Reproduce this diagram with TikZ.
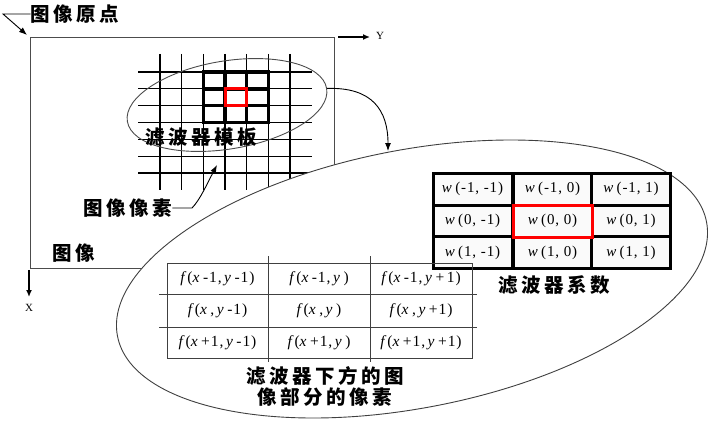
\documentclass[tikz,border=0pt]{standalone}
\usepackage{fontspec}
\setmainfont{Liberation Serif}
\newfontfamily\cjk[LetterSpace=18]{Noto Sans CJK SC}
\newfontfamily\tabfont[LetterSpace=6]{Liberation Serif}
\usetikzlibrary{arrows.meta,shapes.geometric}
\begin{document}
\begin{tikzpicture}[x=1pt,y=-1pt,
  cjklab/.style={font=\cjk\bfseries\fontsize{19.5}{21}\selectfont, inner sep=0pt, align=center},
  gridln/.style={line width=1.3pt},
  thinln/.style={line width=0.9pt, black!75},
  arr/.style={-{Latex[length=8pt,width=6pt]}, line width=0.9pt},
  wcell/.style={draw, line width=3pt, fill=gray!4, minimum width=79pt, minimum height=32pt, inner sep=0pt, font=\tabfont\fontsize{15}{16}\selectfont},
  fcell/.style={inner sep=0pt, font=\tabfont\fontsize{15.5}{16}\selectfont},
  axisln/.style={line width=1.6pt, -{Latex[length=7pt,width=6pt]}}]
\useasboundingbox (0,0) rectangle (711,420);
% image frame
\draw[line width=1pt, black!70] (30,38) rectangle (334,268);
\coordinate (imgNW) at (27,35);
% grid
\foreach \i in {0,...,6} \draw[gridln] ({160+21.667*\i},54) -- ({160+21.667*\i},190);
\foreach \j in {0,...,6} \draw[gridln] (138,{72+16.833*\j}) -- (312,{72+16.833*\j});
% filter template
\draw[line width=3.5pt] (203.3,72) rectangle (268.3,122.5);
\draw[line width=3.5pt] (225,72) -- (225,122.5) (246.7,72) -- (246.7,122.5)
  (203.3,88.8) -- (268.3,88.8) (203.3,105.7) -- (268.3,105.7);
\draw[red, line width=3pt] (225,88.8) rectangle (246.7,105.7);
% small ellipse
\node[ellipse, draw, black!70, line width=0.9pt, minimum width=202pt, minimum height=88pt, inner sep=0pt, rotate=9.4] (tmpl) at (227,105) {};
% labels in image
\node[cjklab] (origin) at (75,14) {图像原点};
\draw[arr] (origin.west) -- (3,14) -- (imgNW);
\node[cjklab] (tmplab) at (201,137) {滤波器模板};
\node[cjklab] (pix) at (128,208) {图像像素};
\coordinate (pixtip) at (217,165);
\draw[arr] (pix.east) -- (192,208) .. controls (200,200) and (208,182) .. (pixtip);
\node[cjklab] (img) at (74,253) {图像};
% axes
\coordinate (xs) at (29,270);
\coordinate (xe) at (29,297);
\draw[axisln] (xs) -- (xe);
\node[font=\fontsize{11}{13}\selectfont, inner sep=0pt] (X) at (29,308) {X};
\coordinate (ys) at (338,37);
\coordinate (ye) at (370,37);
\draw[axisln] (ys) -- (ye);
\node[font=\fontsize{11}{13}\selectfont, inner sep=0pt] (Y) at (380,36) {Y};
% big ellipse
\node[ellipse, draw, black!75, fill=white, line width=0.9pt, minimum width=600pt, minimum height=258pt, inner sep=0pt, rotate=11] (big) at (412,279) {};
\coordinate (bigtip) at (388,151);
\draw[arr] (tmpl.east) .. controls (372,87) and (388,110) .. (bigtip);
% w table
\node[wcell] (w11) at (472.5,189) {\textit{w}\,(-1, -1)};
\node[wcell] (w12) at (552.5,189) {\textit{w}\,(-1, 0)};
\node[wcell] (w13) at (631,189) {\textit{w}\,(-1, 1)};
\node[wcell] (w21) at (472.5,221) {\textit{w}\,(0, -1)};
\node[wcell] (w23) at (631,221) {\textit{w}\,(0, 1)};
\node[wcell] (w31) at (472.5,252.5) {\textit{w}\,(1, -1)};
\node[wcell] (w32) at (552.5,252.5) {\textit{w}\,(1, 0)};
\node[wcell] (w33) at (631,252.5) {\textit{w}\,(1, 1)};
\node[wcell, draw=red] (w22) at (552.5,221) {\textit{w}\,(0, 0)};
\node[cjklab] (wlab) at (554,285) {滤波器系数};
% f table
\draw[thinln] (167,263) rectangle (472,358);
\draw[thinln] (159,294) -- (477,294) (159,327) -- (477,327)
  (268,256) -- (268,362) (370,256) -- (370,362);
\node[fcell] (f11) at (217.5,278.5) {\textit{f}(\textit{x}\,-1,\,\textit{y}\,-1)};
\node[fcell] (f12) at (319,278.5) {\textit{f}(\textit{x}\,-1,\,\textit{y}\,)};
\node[fcell] (f13) at (421,278.5) {\textit{f}(\textit{x}\,-1,\,\textit{y}\,+\,1)};
\node[fcell] (f21) at (217.5,310.5) {\textit{f}(\textit{x}\,,\,\textit{y}\,-1)};
\node[fcell] (f22) at (319,310.5) {\textit{f}(\textit{x}\,,\,\textit{y}\,)};
\node[fcell] (f23) at (421,310.5) {\textit{f}(\textit{x}\,,\,\textit{y}\,+1)};
\node[fcell] (f31) at (217.5,342.5) {\textit{f}(\textit{x}\,+1,\,\textit{y}\,-1)};
\node[fcell] (f32) at (319,342.5) {\textit{f}(\textit{x}\,+1,\,\textit{y}\,)};
\node[fcell] (f33) at (421,342.5) {\textit{f}(\textit{x}\,+1,\,\textit{y}\,+1)};
\node[cjklab] (flab) at (325,386) {滤波器下方的图\\像部分的像素};
\end{tikzpicture}
\end{document}
